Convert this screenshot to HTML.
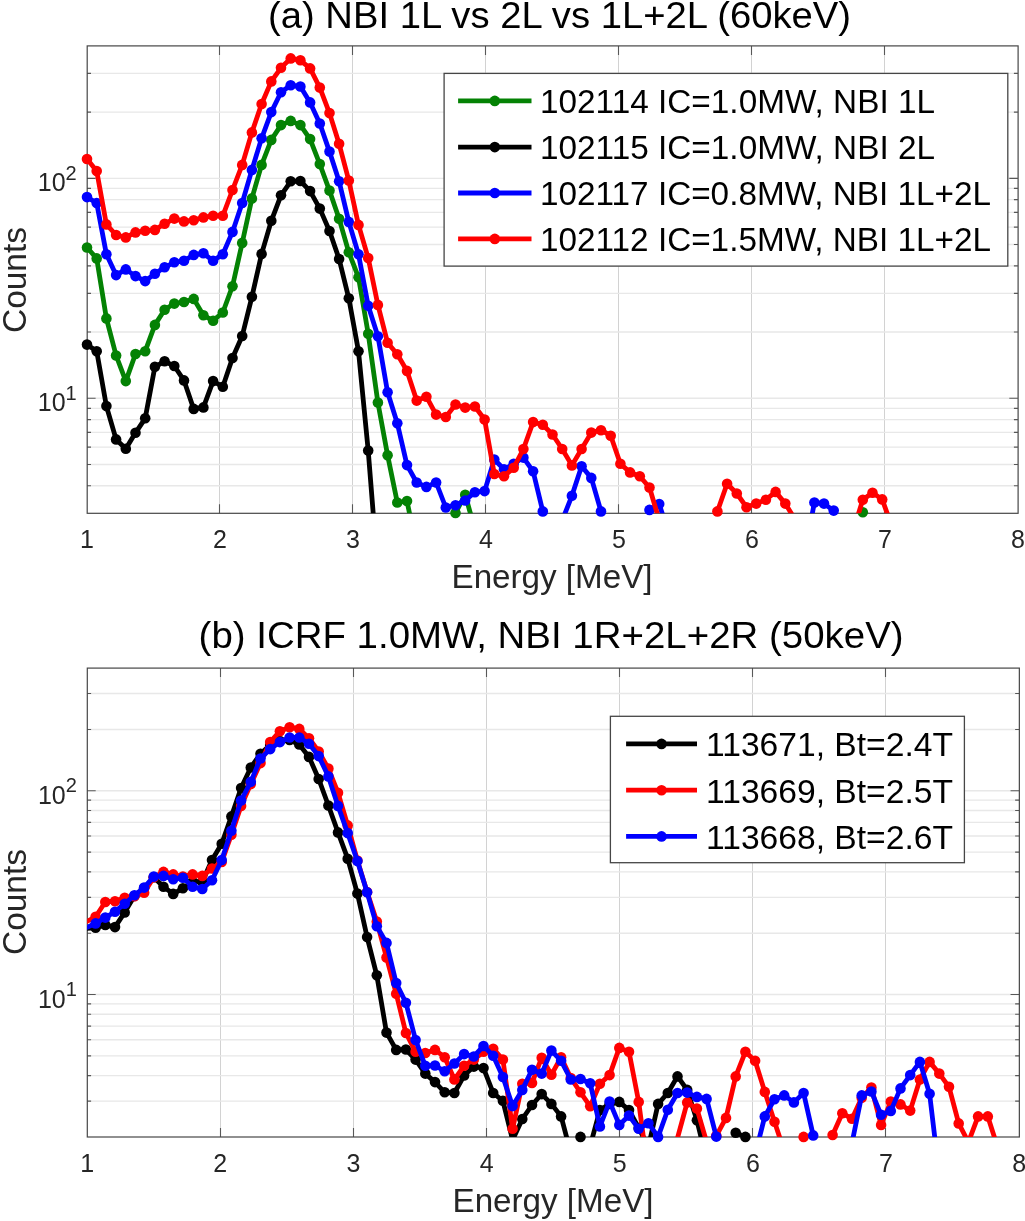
<!DOCTYPE html>
<html lang="en"><head><meta charset="utf-8"><title>NBI neutron spectra</title>
<style>html,body{margin:0;padding:0;background:#fff}svg{display:block}text{font-family:"Liberation Sans",Arial,Helvetica,sans-serif;fill:#262626}text.k{fill:#000}</style></head><body>
<svg width="1025" height="1221" viewBox="0 0 1025 1221">
<rect width="1025" height="1221" fill="#fff"/>
<rect x="87" y="45.9" width="930.9" height="467.4" fill="#fff"/>
<path d="M219.5 45.9V513.3M352.5 45.9V513.3M485.5 45.9V513.3M618.5 45.9V513.3M751.5 45.9V513.3M884.5 45.9V513.3" stroke="#d2d2d2" stroke-width="1" fill="none"/>
<path d="M87 485.82H1017.9M87 464.50H1017.9M87 447.09H1017.9M87 432.36H1017.9M87 419.60H1017.9M87 408.35H1017.9M87 398.29H1017.9M87 332.07H1017.9M87 293.34H1017.9M87 265.86H1017.9M87 244.54H1017.9M87 227.13H1017.9M87 212.40H1017.9M87 199.64H1017.9M87 188.39H1017.9M87 178.33H1017.9M87 112.11H1017.9M87 73.38H1017.9" stroke="#e8e8e8" stroke-width="1.4" fill="none"/>
<path d="M219.50 513.3v-9M219.50 45.9v9M352.50 513.3v-9M352.50 45.9v9M485.50 513.3v-9M485.50 45.9v9M618.50 513.3v-9M618.50 45.9v9M751.50 513.3v-9M751.50 45.9v9M884.50 513.3v-9M884.50 45.9v9M87 485.82h4.0M1017.9 485.82h-4.0M87 464.50h4.0M1017.9 464.50h-4.0M87 447.09h4.0M1017.9 447.09h-4.0M87 432.36h4.0M1017.9 432.36h-4.0M87 419.60h4.0M1017.9 419.60h-4.0M87 408.35h4.0M1017.9 408.35h-4.0M87 398.29h8.6M1017.9 398.29h-8.6M87 332.07h4.0M1017.9 332.07h-4.0M87 293.34h4.0M1017.9 293.34h-4.0M87 265.86h4.0M1017.9 265.86h-4.0M87 244.54h4.0M1017.9 244.54h-4.0M87 227.13h4.0M1017.9 227.13h-4.0M87 212.40h4.0M1017.9 212.40h-4.0M87 199.64h4.0M1017.9 199.64h-4.0M87 188.39h4.0M1017.9 188.39h-4.0M87 178.33h8.6M1017.9 178.33h-8.6M87 112.11h4.0M1017.9 112.11h-4.0M87 73.38h4.0M1017.9 73.38h-4.0" stroke="#585858" stroke-width="1.1" fill="none"/>
<rect x="87.2" y="45.9" width="930.90" height="467.40" fill="none" stroke="#464646" stroke-width="1.2"/>
<clipPath id="c1"><rect x="87" y="45.9" width="930.9" height="467.4"/></clipPath>
<polyline clip-path="url(#c1)" points="87.0,247.5 96.7,258.4 106.4,318.4 116.1,355.5 125.8,381.1 135.5,354.0 145.2,351.2 154.9,324.9 164.6,309.8 174.3,303.6 184.0,302.0 193.7,298.9 203.4,315.3 213.1,320.7 222.8,312.5 232.5,286.2 242.2,242.9 251.9,198.4 261.6,164.9 271.3,139.9 281.0,125.1 290.7,120.9 300.4,125.1 310.1,139.1 319.8,164.1 329.5,190.6 339.1,218.7 348.8,252.3 358.5,277.3 368.2,333.7 377.9,402.6 387.6,455.2 397.3,502.5 407.0,501.0 416.7,548.6 426.4,560.0 436.1,560.0 445.8,560.0 455.5,513.0 465.2,494.7 474.9,529.5 484.6,560.0 494.3,560.0 504.0,560.0 513.7,560.0 523.4,560.0 533.1,560.0 542.8,560.0 552.5,560.0 562.2,560.0 571.9,560.0 581.6,560.0 591.3,560.0 601.0,560.0 610.7,560.0 620.4,560.0 630.1,560.0 639.8,560.0 649.5,560.0 659.2,560.0 668.9,560.0 678.6,560.0 688.3,560.0 698.0,560.0 707.7,560.0 717.4,560.0 727.1,560.0 736.8,560.0 746.5,560.0 756.2,560.0 765.9,560.0 775.6,560.0 785.3,560.0 795.0,560.0 804.7,560.0 814.4,560.0 824.0,560.0 833.7,560.0 843.4,560.0 853.1,560.0 862.8,512.2 872.5,560.0 882.2,560.0 891.9,560.0 901.6,560.0 911.3,560.0 921.0,560.0 930.7,560.0 940.4,560.0 950.1,560.0 959.8,560.0 969.5,560.0 979.2,560.0 988.9,560.0 998.6,560.0 1008.3,560.0 1018.0,560.0" fill="none" stroke="#048204" stroke-width="4.8" stroke-linejoin="round"/>
<g fill="#048204"><circle cx="87.0" cy="247.5" r="5.3"/><circle cx="96.7" cy="258.4" r="5.3"/><circle cx="106.4" cy="318.4" r="5.3"/><circle cx="116.1" cy="355.5" r="5.3"/><circle cx="125.8" cy="381.1" r="5.3"/><circle cx="135.5" cy="354.0" r="5.3"/><circle cx="145.2" cy="351.2" r="5.3"/><circle cx="154.9" cy="324.9" r="5.3"/><circle cx="164.6" cy="309.8" r="5.3"/><circle cx="174.3" cy="303.6" r="5.3"/><circle cx="184.0" cy="302.0" r="5.3"/><circle cx="193.7" cy="298.9" r="5.3"/><circle cx="203.4" cy="315.3" r="5.3"/><circle cx="213.1" cy="320.7" r="5.3"/><circle cx="222.8" cy="312.5" r="5.3"/><circle cx="232.5" cy="286.2" r="5.3"/><circle cx="242.2" cy="242.9" r="5.3"/><circle cx="251.9" cy="198.4" r="5.3"/><circle cx="261.6" cy="164.9" r="5.3"/><circle cx="271.3" cy="139.9" r="5.3"/><circle cx="281.0" cy="125.1" r="5.3"/><circle cx="290.7" cy="120.9" r="5.3"/><circle cx="300.4" cy="125.1" r="5.3"/><circle cx="310.1" cy="139.1" r="5.3"/><circle cx="319.8" cy="164.1" r="5.3"/><circle cx="329.5" cy="190.6" r="5.3"/><circle cx="339.1" cy="218.7" r="5.3"/><circle cx="348.8" cy="252.3" r="5.3"/><circle cx="358.5" cy="277.3" r="5.3"/><circle cx="368.2" cy="333.7" r="5.3"/><circle cx="377.9" cy="402.6" r="5.3"/><circle cx="387.6" cy="455.2" r="5.3"/><circle cx="397.3" cy="502.5" r="5.3"/><circle cx="407.0" cy="501.0" r="5.3"/><circle cx="455.5" cy="513.0" r="5.3"/><circle cx="465.2" cy="494.7" r="5.3"/><circle cx="862.8" cy="512.2" r="5.3"/></g>
<polyline clip-path="url(#c1)" points="87.0,344.6 96.7,351.2 106.4,406.1 116.1,439.4 125.8,448.7 135.5,432.8 145.2,418.3 154.9,366.8 164.6,361.3 174.3,366.0 184.0,380.4 193.7,408.9 203.4,407.4 213.1,381.1 222.8,386.8 232.5,358.0 242.2,336.0 251.9,296.8 261.6,253.9 271.3,220.8 281.0,195.3 290.7,181.3 300.4,181.0 310.1,191.1 319.8,208.6 329.5,231.0 339.1,259.0 348.8,298.3 358.5,351.2 368.2,450.5 377.9,572.0 387.6,600.0 397.3,600.0 407.0,600.0 416.7,600.0 426.4,600.0 436.1,600.0 445.8,600.0 455.5,600.0 465.2,600.0 474.9,600.0 484.6,600.0 494.3,600.0 504.0,600.0 513.7,600.0 523.4,600.0 533.1,600.0 542.8,600.0 552.5,600.0 562.2,600.0 571.9,600.0 581.6,600.0 591.3,600.0 601.0,600.0 610.7,600.0 620.4,600.0 630.1,600.0 639.8,600.0 649.5,600.0 659.2,600.0 668.9,600.0 678.6,600.0 688.3,600.0 698.0,600.0 707.7,600.0 717.4,600.0 727.1,600.0 736.8,600.0 746.5,600.0 756.2,600.0 765.9,600.0 775.6,600.0 785.3,600.0 795.0,600.0 804.7,600.0 814.4,600.0 824.0,600.0 833.7,600.0 843.4,600.0 853.1,600.0 862.8,600.0 872.5,600.0 882.2,600.0 891.9,600.0 901.6,600.0 911.3,600.0 921.0,600.0 930.7,600.0 940.4,600.0 950.1,600.0 959.8,600.0 969.5,600.0 979.2,600.0 988.9,600.0 998.6,600.0 1008.3,600.0 1018.0,600.0" fill="none" stroke="#000000" stroke-width="4.8" stroke-linejoin="round"/>
<g fill="#000000"><circle cx="87.0" cy="344.6" r="5.3"/><circle cx="96.7" cy="351.2" r="5.3"/><circle cx="106.4" cy="406.1" r="5.3"/><circle cx="116.1" cy="439.4" r="5.3"/><circle cx="125.8" cy="448.7" r="5.3"/><circle cx="135.5" cy="432.8" r="5.3"/><circle cx="145.2" cy="418.3" r="5.3"/><circle cx="154.9" cy="366.8" r="5.3"/><circle cx="164.6" cy="361.3" r="5.3"/><circle cx="174.3" cy="366.0" r="5.3"/><circle cx="184.0" cy="380.4" r="5.3"/><circle cx="193.7" cy="408.9" r="5.3"/><circle cx="203.4" cy="407.4" r="5.3"/><circle cx="213.1" cy="381.1" r="5.3"/><circle cx="222.8" cy="386.8" r="5.3"/><circle cx="232.5" cy="358.0" r="5.3"/><circle cx="242.2" cy="336.0" r="5.3"/><circle cx="251.9" cy="296.8" r="5.3"/><circle cx="261.6" cy="253.9" r="5.3"/><circle cx="271.3" cy="220.8" r="5.3"/><circle cx="281.0" cy="195.3" r="5.3"/><circle cx="290.7" cy="181.3" r="5.3"/><circle cx="300.4" cy="181.0" r="5.3"/><circle cx="310.1" cy="191.1" r="5.3"/><circle cx="319.8" cy="208.6" r="5.3"/><circle cx="329.5" cy="231.0" r="5.3"/><circle cx="339.1" cy="259.0" r="5.3"/><circle cx="348.8" cy="298.3" r="5.3"/><circle cx="358.5" cy="351.2" r="5.3"/><circle cx="368.2" cy="450.5" r="5.3"/></g>
<polyline clip-path="url(#c1)" points="87.0,197.1 96.7,203.0 106.4,254.2 116.1,275.1 125.8,269.4 135.5,276.1 145.2,281.1 154.9,273.7 164.6,267.3 174.3,262.3 184.0,260.8 193.7,254.9 203.4,253.3 213.1,260.8 222.8,254.2 232.5,231.9 242.2,203.0 251.9,169.9 261.6,138.3 271.3,112.1 281.0,92.3 290.7,85.3 300.4,86.5 310.1,102.4 319.8,123.5 329.5,151.6 339.1,181.3 348.8,221.9 358.5,254.3 368.2,305.8 377.9,336.2 387.6,392.3 397.3,423.2 407.0,465.1 416.7,482.5 426.4,486.9 436.1,482.5 445.8,507.5 455.5,505.2 465.2,500.5 474.9,492.2 484.6,491.1 494.3,459.5 504.0,469.3 513.7,463.8 523.4,457.6 533.1,471.3 542.8,511.4 552.5,530.0 562.2,520.5 571.9,495.8 581.6,466.2 591.3,477.9 601.0,511.4 610.7,545.0 620.4,545.0 630.1,545.0 639.8,535.0 649.5,509.9 659.2,504.1 668.9,534.0 678.6,560.0 688.3,560.0 698.0,560.0 707.7,560.0 717.4,560.0 727.1,560.0 736.8,560.0 746.5,560.0 756.2,560.0 765.9,560.0 775.6,560.0 785.3,560.0 795.0,560.0 804.7,553.9 814.4,502.5 824.0,503.6 833.7,510.6 843.4,545.0 853.1,560.0 862.8,560.0 872.5,560.0 882.2,560.0 891.9,560.0 901.6,560.0 911.3,560.0 921.0,560.0 930.7,560.0 940.4,560.0 950.1,560.0 959.8,560.0 969.5,560.0 979.2,560.0 988.9,560.0 998.6,560.0 1008.3,560.0 1018.0,560.0" fill="none" stroke="#0000ff" stroke-width="4.8" stroke-linejoin="round"/>
<g fill="#0000ff"><circle cx="87.0" cy="197.1" r="5.3"/><circle cx="96.7" cy="203.0" r="5.3"/><circle cx="106.4" cy="254.2" r="5.3"/><circle cx="116.1" cy="275.1" r="5.3"/><circle cx="125.8" cy="269.4" r="5.3"/><circle cx="135.5" cy="276.1" r="5.3"/><circle cx="145.2" cy="281.1" r="5.3"/><circle cx="154.9" cy="273.7" r="5.3"/><circle cx="164.6" cy="267.3" r="5.3"/><circle cx="174.3" cy="262.3" r="5.3"/><circle cx="184.0" cy="260.8" r="5.3"/><circle cx="193.7" cy="254.9" r="5.3"/><circle cx="203.4" cy="253.3" r="5.3"/><circle cx="213.1" cy="260.8" r="5.3"/><circle cx="222.8" cy="254.2" r="5.3"/><circle cx="232.5" cy="231.9" r="5.3"/><circle cx="242.2" cy="203.0" r="5.3"/><circle cx="251.9" cy="169.9" r="5.3"/><circle cx="261.6" cy="138.3" r="5.3"/><circle cx="271.3" cy="112.1" r="5.3"/><circle cx="281.0" cy="92.3" r="5.3"/><circle cx="290.7" cy="85.3" r="5.3"/><circle cx="300.4" cy="86.5" r="5.3"/><circle cx="310.1" cy="102.4" r="5.3"/><circle cx="319.8" cy="123.5" r="5.3"/><circle cx="329.5" cy="151.6" r="5.3"/><circle cx="339.1" cy="181.3" r="5.3"/><circle cx="348.8" cy="221.9" r="5.3"/><circle cx="358.5" cy="254.3" r="5.3"/><circle cx="368.2" cy="305.8" r="5.3"/><circle cx="377.9" cy="336.2" r="5.3"/><circle cx="387.6" cy="392.3" r="5.3"/><circle cx="397.3" cy="423.2" r="5.3"/><circle cx="407.0" cy="465.1" r="5.3"/><circle cx="416.7" cy="482.5" r="5.3"/><circle cx="426.4" cy="486.9" r="5.3"/><circle cx="436.1" cy="482.5" r="5.3"/><circle cx="445.8" cy="507.5" r="5.3"/><circle cx="455.5" cy="505.2" r="5.3"/><circle cx="465.2" cy="500.5" r="5.3"/><circle cx="474.9" cy="492.2" r="5.3"/><circle cx="484.6" cy="491.1" r="5.3"/><circle cx="494.3" cy="459.5" r="5.3"/><circle cx="504.0" cy="469.3" r="5.3"/><circle cx="513.7" cy="463.8" r="5.3"/><circle cx="523.4" cy="457.6" r="5.3"/><circle cx="533.1" cy="471.3" r="5.3"/><circle cx="542.8" cy="511.4" r="5.3"/><circle cx="571.9" cy="495.8" r="5.3"/><circle cx="581.6" cy="466.2" r="5.3"/><circle cx="591.3" cy="477.9" r="5.3"/><circle cx="601.0" cy="511.4" r="5.3"/><circle cx="649.5" cy="509.9" r="5.3"/><circle cx="659.2" cy="504.1" r="5.3"/><circle cx="814.4" cy="502.5" r="5.3"/><circle cx="824.0" cy="503.6" r="5.3"/><circle cx="833.7" cy="510.6" r="5.3"/></g>
<polyline clip-path="url(#c1)" points="87.0,159.0 96.7,171.0 106.4,224.4 116.1,235.0 125.8,237.4 135.5,232.4 145.2,230.8 154.9,229.9 164.6,223.8 174.3,218.6 184.0,221.4 193.7,220.2 203.4,217.4 213.1,215.8 222.8,215.8 232.5,190.0 242.2,164.9 251.9,132.4 261.6,104.0 271.3,81.4 281.0,67.8 290.7,58.4 300.4,60.3 310.1,68.4 319.8,87.6 329.5,113.1 339.1,143.8 348.8,180.5 358.5,224.9 368.2,258.1 377.9,304.9 387.6,342.8 397.3,354.2 407.0,370.9 416.7,400.6 426.4,396.7 436.1,414.6 445.8,417.0 455.5,404.5 465.2,407.6 474.9,406.5 484.6,419.5 494.3,474.0 504.0,476.3 513.7,467.7 523.4,449.0 533.1,422.1 542.8,424.8 552.5,434.5 562.2,449.0 571.9,465.4 581.6,449.0 591.3,432.6 601.0,430.2 610.7,435.7 620.4,463.8 630.1,472.4 639.8,476.3 649.5,487.5 659.2,520.2 668.9,545.0 678.6,545.0 688.3,545.0 698.0,545.0 707.7,545.0 717.4,511.4 727.1,483.8 736.8,493.5 746.5,507.2 756.2,503.6 765.9,499.7 775.6,491.9 785.3,503.6 795.0,519.4 804.7,545.0 814.4,545.0 824.0,545.0 833.7,545.0 843.4,545.0 853.1,531.0 862.8,499.7 872.5,492.7 882.2,499.4 891.9,526.4 901.6,560.0 911.3,560.0 921.0,560.0 930.7,560.0 940.4,560.0 950.1,560.0 959.8,560.0 969.5,560.0 979.2,560.0 988.9,560.0 998.6,560.0 1008.3,560.0 1018.0,560.0" fill="none" stroke="#ff0000" stroke-width="4.8" stroke-linejoin="round"/>
<g fill="#ff0000"><circle cx="87.0" cy="159.0" r="5.3"/><circle cx="96.7" cy="171.0" r="5.3"/><circle cx="106.4" cy="224.4" r="5.3"/><circle cx="116.1" cy="235.0" r="5.3"/><circle cx="125.8" cy="237.4" r="5.3"/><circle cx="135.5" cy="232.4" r="5.3"/><circle cx="145.2" cy="230.8" r="5.3"/><circle cx="154.9" cy="229.9" r="5.3"/><circle cx="164.6" cy="223.8" r="5.3"/><circle cx="174.3" cy="218.6" r="5.3"/><circle cx="184.0" cy="221.4" r="5.3"/><circle cx="193.7" cy="220.2" r="5.3"/><circle cx="203.4" cy="217.4" r="5.3"/><circle cx="213.1" cy="215.8" r="5.3"/><circle cx="222.8" cy="215.8" r="5.3"/><circle cx="232.5" cy="190.0" r="5.3"/><circle cx="242.2" cy="164.9" r="5.3"/><circle cx="251.9" cy="132.4" r="5.3"/><circle cx="261.6" cy="104.0" r="5.3"/><circle cx="271.3" cy="81.4" r="5.3"/><circle cx="281.0" cy="67.8" r="5.3"/><circle cx="290.7" cy="58.4" r="5.3"/><circle cx="300.4" cy="60.3" r="5.3"/><circle cx="310.1" cy="68.4" r="5.3"/><circle cx="319.8" cy="87.6" r="5.3"/><circle cx="329.5" cy="113.1" r="5.3"/><circle cx="339.1" cy="143.8" r="5.3"/><circle cx="348.8" cy="180.5" r="5.3"/><circle cx="358.5" cy="224.9" r="5.3"/><circle cx="368.2" cy="258.1" r="5.3"/><circle cx="377.9" cy="304.9" r="5.3"/><circle cx="387.6" cy="342.8" r="5.3"/><circle cx="397.3" cy="354.2" r="5.3"/><circle cx="407.0" cy="370.9" r="5.3"/><circle cx="416.7" cy="400.6" r="5.3"/><circle cx="426.4" cy="396.7" r="5.3"/><circle cx="436.1" cy="414.6" r="5.3"/><circle cx="445.8" cy="417.0" r="5.3"/><circle cx="455.5" cy="404.5" r="5.3"/><circle cx="465.2" cy="407.6" r="5.3"/><circle cx="474.9" cy="406.5" r="5.3"/><circle cx="484.6" cy="419.5" r="5.3"/><circle cx="494.3" cy="474.0" r="5.3"/><circle cx="504.0" cy="476.3" r="5.3"/><circle cx="513.7" cy="467.7" r="5.3"/><circle cx="523.4" cy="449.0" r="5.3"/><circle cx="533.1" cy="422.1" r="5.3"/><circle cx="542.8" cy="424.8" r="5.3"/><circle cx="552.5" cy="434.5" r="5.3"/><circle cx="562.2" cy="449.0" r="5.3"/><circle cx="571.9" cy="465.4" r="5.3"/><circle cx="581.6" cy="449.0" r="5.3"/><circle cx="591.3" cy="432.6" r="5.3"/><circle cx="601.0" cy="430.2" r="5.3"/><circle cx="610.7" cy="435.7" r="5.3"/><circle cx="620.4" cy="463.8" r="5.3"/><circle cx="630.1" cy="472.4" r="5.3"/><circle cx="639.8" cy="476.3" r="5.3"/><circle cx="649.5" cy="487.5" r="5.3"/><circle cx="717.4" cy="511.4" r="5.3"/><circle cx="727.1" cy="483.8" r="5.3"/><circle cx="736.8" cy="493.5" r="5.3"/><circle cx="746.5" cy="507.2" r="5.3"/><circle cx="756.2" cy="503.6" r="5.3"/><circle cx="765.9" cy="499.7" r="5.3"/><circle cx="775.6" cy="491.9" r="5.3"/><circle cx="785.3" cy="503.6" r="5.3"/><circle cx="862.8" cy="499.7" r="5.3"/><circle cx="872.5" cy="492.7" r="5.3"/><circle cx="882.2" cy="499.4" r="5.3"/></g>
<text x="87.0" y="548.1" font-size="25" text-anchor="middle">1</text>
<text x="220.0" y="548.1" font-size="25" text-anchor="middle">2</text>
<text x="353.0" y="548.1" font-size="25" text-anchor="middle">3</text>
<text x="486.0" y="548.1" font-size="25" text-anchor="middle">4</text>
<text x="618.9" y="548.1" font-size="25" text-anchor="middle">5</text>
<text x="751.9" y="548.1" font-size="25" text-anchor="middle">6</text>
<text x="884.9" y="548.1" font-size="25" text-anchor="middle">7</text>
<text x="1017.9" y="548.1" font-size="25" text-anchor="middle">8</text>
<text x="65.6" y="411.2" font-size="25" text-anchor="end">10</text>
<text x="65.6" y="399.6" font-size="20" text-anchor="start">1</text>
<text x="65.6" y="191.2" font-size="25" text-anchor="end">10</text>
<text x="65.6" y="179.6" font-size="20" text-anchor="start">2</text>
<rect x="87.1" y="668.1" width="932.05" height="468.9" fill="#fff"/>
<path d="M220.5 668.1V1137M353.5 668.1V1137M486.5 668.1V1137M619.5 668.1V1137M752.5 668.1V1137M885.5 668.1V1137" stroke="#d2d2d2" stroke-width="1" fill="none"/>
<path d="M87.1 1101.12H1019.15M87.1 1075.66H1019.15M87.1 1055.91H1019.15M87.1 1039.77H1019.15M87.1 1026.13H1019.15M87.1 1014.31H1019.15M87.1 1003.89H1019.15M87.1 994.57H1019.15M87.1 933.22H1019.15M87.1 897.34H1019.15M87.1 871.88H1019.15M87.1 852.13H1019.15M87.1 835.99H1019.15M87.1 822.35H1019.15M87.1 810.53H1019.15M87.1 800.11H1019.15M87.1 790.79H1019.15M87.1 729.44H1019.15M87.1 693.56H1019.15" stroke="#e8e8e8" stroke-width="1.4" fill="none"/>
<path d="M220.50 1137v-9M220.50 668.1v9M353.50 1137v-9M353.50 668.1v9M486.50 1137v-9M486.50 668.1v9M619.50 1137v-9M619.50 668.1v9M752.50 1137v-9M752.50 668.1v9M885.50 1137v-9M885.50 668.1v9M87.1 1101.12h4.0M1019.15 1101.12h-4.0M87.1 1075.66h4.0M1019.15 1075.66h-4.0M87.1 1055.91h4.0M1019.15 1055.91h-4.0M87.1 1039.77h4.0M1019.15 1039.77h-4.0M87.1 1026.13h4.0M1019.15 1026.13h-4.0M87.1 1014.31h4.0M1019.15 1014.31h-4.0M87.1 1003.89h4.0M1019.15 1003.89h-4.0M87.1 994.57h8.6M1019.15 994.57h-8.6M87.1 933.22h4.0M1019.15 933.22h-4.0M87.1 897.34h4.0M1019.15 897.34h-4.0M87.1 871.88h4.0M1019.15 871.88h-4.0M87.1 852.13h4.0M1019.15 852.13h-4.0M87.1 835.99h4.0M1019.15 835.99h-4.0M87.1 822.35h4.0M1019.15 822.35h-4.0M87.1 810.53h4.0M1019.15 810.53h-4.0M87.1 800.11h4.0M1019.15 800.11h-4.0M87.1 790.79h8.6M1019.15 790.79h-8.6M87.1 729.44h4.0M1019.15 729.44h-4.0M87.1 693.56h4.0M1019.15 693.56h-4.0" stroke="#585858" stroke-width="1.1" fill="none"/>
<rect x="87.3" y="668.1" width="932.05" height="468.90" fill="none" stroke="#464646" stroke-width="1.2"/>
<clipPath id="c2"><rect x="87.1" y="668.1" width="932.05" height="468.9"/></clipPath>
<polyline clip-path="url(#c2)" points="85.9,928.5 95.6,927.8 105.3,924.9 115.0,927.1 124.7,912.4 134.4,896.0 144.1,888.3 153.8,877.3 163.5,886.8 173.2,893.9 182.9,888.3 192.6,881.7 202.3,881.7 212.0,860.0 221.7,843.8 231.4,816.4 241.1,788.0 250.8,767.5 260.5,753.8 270.2,745.0 279.9,741.0 289.6,740.0 299.3,744.5 309.0,756.9 318.7,779.0 328.4,805.5 338.0,832.4 347.7,858.7 357.4,893.6 367.1,937.1 376.8,975.3 386.5,1032.6 396.2,1049.9 405.9,1049.5 415.6,1059.6 425.3,1073.6 435.0,1082.1 444.7,1092.3 454.4,1093.0 464.1,1075.5 473.8,1066.6 483.5,1068.1 493.2,1093.0 502.9,1100.8 512.6,1140.0 522.3,1119.0 532.0,1105.0 541.7,1094.1 551.4,1103.9 561.1,1116.4 570.8,1153.0 580.5,1136.9 590.2,1145.8 599.9,1110.1 609.6,1103.9 619.3,1101.9 629.0,1110.1 638.7,1128.0 648.4,1146.9 658.1,1103.9 667.8,1093.0 677.5,1076.4 687.2,1089.9 696.9,1120.3 706.6,1160.0 716.3,1170.0 726.0,1160.0 735.7,1132.7 745.4,1136.9 755.1,1180.0 764.8,1180.0 774.5,1180.0 784.2,1180.0 793.9,1180.0 803.6,1180.0 813.2,1180.0 822.9,1180.0 832.6,1180.0 842.3,1180.0 852.0,1180.0 861.7,1180.0 871.4,1180.0 881.1,1180.0 890.8,1180.0 900.5,1180.0 910.2,1180.0 919.9,1180.0 929.6,1180.0 939.3,1180.0 949.0,1180.0 958.7,1180.0 968.4,1180.0 978.1,1180.0 987.8,1180.0 997.5,1180.0 1007.2,1180.0 1016.9,1180.0" fill="none" stroke="#000000" stroke-width="4.8" stroke-linejoin="round"/>
<g fill="#000000"><circle cx="95.6" cy="927.8" r="5.3"/><circle cx="105.3" cy="924.9" r="5.3"/><circle cx="115.0" cy="927.1" r="5.3"/><circle cx="124.7" cy="912.4" r="5.3"/><circle cx="134.4" cy="896.0" r="5.3"/><circle cx="144.1" cy="888.3" r="5.3"/><circle cx="153.8" cy="877.3" r="5.3"/><circle cx="163.5" cy="886.8" r="5.3"/><circle cx="173.2" cy="893.9" r="5.3"/><circle cx="182.9" cy="888.3" r="5.3"/><circle cx="192.6" cy="881.7" r="5.3"/><circle cx="202.3" cy="881.7" r="5.3"/><circle cx="212.0" cy="860.0" r="5.3"/><circle cx="221.7" cy="843.8" r="5.3"/><circle cx="231.4" cy="816.4" r="5.3"/><circle cx="241.1" cy="788.0" r="5.3"/><circle cx="250.8" cy="767.5" r="5.3"/><circle cx="260.5" cy="753.8" r="5.3"/><circle cx="270.2" cy="745.0" r="5.3"/><circle cx="279.9" cy="741.0" r="5.3"/><circle cx="289.6" cy="740.0" r="5.3"/><circle cx="299.3" cy="744.5" r="5.3"/><circle cx="309.0" cy="756.9" r="5.3"/><circle cx="318.7" cy="779.0" r="5.3"/><circle cx="328.4" cy="805.5" r="5.3"/><circle cx="338.0" cy="832.4" r="5.3"/><circle cx="347.7" cy="858.7" r="5.3"/><circle cx="357.4" cy="893.6" r="5.3"/><circle cx="367.1" cy="937.1" r="5.3"/><circle cx="376.8" cy="975.3" r="5.3"/><circle cx="386.5" cy="1032.6" r="5.3"/><circle cx="396.2" cy="1049.9" r="5.3"/><circle cx="405.9" cy="1049.5" r="5.3"/><circle cx="415.6" cy="1059.6" r="5.3"/><circle cx="425.3" cy="1073.6" r="5.3"/><circle cx="435.0" cy="1082.1" r="5.3"/><circle cx="444.7" cy="1092.3" r="5.3"/><circle cx="454.4" cy="1093.0" r="5.3"/><circle cx="464.1" cy="1075.5" r="5.3"/><circle cx="473.8" cy="1066.6" r="5.3"/><circle cx="483.5" cy="1068.1" r="5.3"/><circle cx="493.2" cy="1093.0" r="5.3"/><circle cx="502.9" cy="1100.8" r="5.3"/><circle cx="522.3" cy="1119.0" r="5.3"/><circle cx="532.0" cy="1105.0" r="5.3"/><circle cx="541.7" cy="1094.1" r="5.3"/><circle cx="551.4" cy="1103.9" r="5.3"/><circle cx="561.1" cy="1116.4" r="5.3"/><circle cx="580.5" cy="1136.9" r="5.3"/><circle cx="599.9" cy="1110.1" r="5.3"/><circle cx="609.6" cy="1103.9" r="5.3"/><circle cx="619.3" cy="1101.9" r="5.3"/><circle cx="629.0" cy="1110.1" r="5.3"/><circle cx="638.7" cy="1128.0" r="5.3"/><circle cx="658.1" cy="1103.9" r="5.3"/><circle cx="667.8" cy="1093.0" r="5.3"/><circle cx="677.5" cy="1076.4" r="5.3"/><circle cx="687.2" cy="1089.9" r="5.3"/><circle cx="696.9" cy="1120.3" r="5.3"/><circle cx="735.7" cy="1132.7" r="5.3"/><circle cx="745.4" cy="1136.9" r="5.3"/></g>
<polyline clip-path="url(#c2)" points="85.9,922.0 95.6,916.8 105.3,902.0 115.0,901.2 124.7,897.8 134.4,896.3 144.1,892.7 153.8,877.3 163.5,871.9 173.2,874.4 182.9,876.6 192.6,874.4 202.3,875.9 212.0,868.5 221.7,862.0 231.4,834.7 241.1,805.9 250.8,784.1 260.5,763.1 270.2,742.1 279.9,731.2 289.6,727.3 299.3,728.9 309.0,738.2 318.7,751.5 328.4,768.6 338.0,792.7 347.7,825.4 357.4,860.5 367.1,892.0 376.8,921.6 386.5,957.4 396.2,993.7 405.9,1033.0 415.6,1051.8 425.3,1053.0 435.0,1049.9 444.7,1057.2 454.4,1079.5 464.1,1065.8 473.8,1059.6 483.5,1051.8 493.2,1048.7 502.9,1059.5 512.6,1128.8 522.3,1083.7 532.0,1082.9 541.7,1057.7 551.4,1074.8 561.1,1057.2 570.8,1078.0 580.5,1092.3 590.2,1106.3 599.9,1083.7 609.6,1075.1 619.3,1047.9 629.0,1051.8 638.7,1101.9 648.4,1174.8 658.1,1180.0 667.8,1180.0 677.5,1138.0 687.2,1102.4 696.9,1108.6 706.6,1141.9 716.3,1135.8 726.0,1117.9 735.7,1076.4 745.4,1051.8 755.1,1060.8 764.8,1091.9 774.5,1121.8 784.2,1151.0 793.9,1160.0 803.6,1136.9 813.2,1160.0 822.9,1160.0 832.6,1135.0 842.3,1113.3 852.0,1118.7 861.7,1097.7 871.4,1087.6 881.1,1124.9 890.8,1101.6 900.5,1104.4 910.2,1110.6 919.9,1079.5 929.6,1061.9 939.3,1073.6 949.0,1086.8 958.7,1123.4 968.4,1142.2 978.1,1116.4 987.8,1116.4 997.5,1146.9 1007.2,1180.0 1016.9,1180.0" fill="none" stroke="#ff0000" stroke-width="4.8" stroke-linejoin="round"/>
<g fill="#ff0000"><circle cx="95.6" cy="916.8" r="5.3"/><circle cx="105.3" cy="902.0" r="5.3"/><circle cx="115.0" cy="901.2" r="5.3"/><circle cx="124.7" cy="897.8" r="5.3"/><circle cx="134.4" cy="896.3" r="5.3"/><circle cx="144.1" cy="892.7" r="5.3"/><circle cx="153.8" cy="877.3" r="5.3"/><circle cx="163.5" cy="871.9" r="5.3"/><circle cx="173.2" cy="874.4" r="5.3"/><circle cx="182.9" cy="876.6" r="5.3"/><circle cx="192.6" cy="874.4" r="5.3"/><circle cx="202.3" cy="875.9" r="5.3"/><circle cx="212.0" cy="868.5" r="5.3"/><circle cx="221.7" cy="862.0" r="5.3"/><circle cx="231.4" cy="834.7" r="5.3"/><circle cx="241.1" cy="805.9" r="5.3"/><circle cx="250.8" cy="784.1" r="5.3"/><circle cx="260.5" cy="763.1" r="5.3"/><circle cx="270.2" cy="742.1" r="5.3"/><circle cx="279.9" cy="731.2" r="5.3"/><circle cx="289.6" cy="727.3" r="5.3"/><circle cx="299.3" cy="728.9" r="5.3"/><circle cx="309.0" cy="738.2" r="5.3"/><circle cx="318.7" cy="751.5" r="5.3"/><circle cx="328.4" cy="768.6" r="5.3"/><circle cx="338.0" cy="792.7" r="5.3"/><circle cx="347.7" cy="825.4" r="5.3"/><circle cx="357.4" cy="860.5" r="5.3"/><circle cx="367.1" cy="892.0" r="5.3"/><circle cx="376.8" cy="921.6" r="5.3"/><circle cx="386.5" cy="957.4" r="5.3"/><circle cx="396.2" cy="993.7" r="5.3"/><circle cx="405.9" cy="1033.0" r="5.3"/><circle cx="415.6" cy="1051.8" r="5.3"/><circle cx="425.3" cy="1053.0" r="5.3"/><circle cx="435.0" cy="1049.9" r="5.3"/><circle cx="444.7" cy="1057.2" r="5.3"/><circle cx="454.4" cy="1079.5" r="5.3"/><circle cx="464.1" cy="1065.8" r="5.3"/><circle cx="473.8" cy="1059.6" r="5.3"/><circle cx="483.5" cy="1051.8" r="5.3"/><circle cx="493.2" cy="1048.7" r="5.3"/><circle cx="502.9" cy="1059.5" r="5.3"/><circle cx="512.6" cy="1128.8" r="5.3"/><circle cx="522.3" cy="1083.7" r="5.3"/><circle cx="532.0" cy="1082.9" r="5.3"/><circle cx="541.7" cy="1057.7" r="5.3"/><circle cx="551.4" cy="1074.8" r="5.3"/><circle cx="561.1" cy="1057.2" r="5.3"/><circle cx="570.8" cy="1078.0" r="5.3"/><circle cx="580.5" cy="1092.3" r="5.3"/><circle cx="590.2" cy="1106.3" r="5.3"/><circle cx="599.9" cy="1083.7" r="5.3"/><circle cx="609.6" cy="1075.1" r="5.3"/><circle cx="619.3" cy="1047.9" r="5.3"/><circle cx="629.0" cy="1051.8" r="5.3"/><circle cx="638.7" cy="1101.9" r="5.3"/><circle cx="687.2" cy="1102.4" r="5.3"/><circle cx="696.9" cy="1108.6" r="5.3"/><circle cx="716.3" cy="1135.8" r="5.3"/><circle cx="726.0" cy="1117.9" r="5.3"/><circle cx="735.7" cy="1076.4" r="5.3"/><circle cx="745.4" cy="1051.8" r="5.3"/><circle cx="755.1" cy="1060.8" r="5.3"/><circle cx="764.8" cy="1091.9" r="5.3"/><circle cx="774.5" cy="1121.8" r="5.3"/><circle cx="803.6" cy="1136.9" r="5.3"/><circle cx="832.6" cy="1135.0" r="5.3"/><circle cx="842.3" cy="1113.3" r="5.3"/><circle cx="852.0" cy="1118.7" r="5.3"/><circle cx="861.7" cy="1097.7" r="5.3"/><circle cx="871.4" cy="1087.6" r="5.3"/><circle cx="881.1" cy="1124.9" r="5.3"/><circle cx="890.8" cy="1101.6" r="5.3"/><circle cx="900.5" cy="1104.4" r="5.3"/><circle cx="910.2" cy="1110.6" r="5.3"/><circle cx="919.9" cy="1079.5" r="5.3"/><circle cx="929.6" cy="1061.9" r="5.3"/><circle cx="939.3" cy="1073.6" r="5.3"/><circle cx="949.0" cy="1086.8" r="5.3"/><circle cx="958.7" cy="1123.4" r="5.3"/><circle cx="978.1" cy="1116.4" r="5.3"/><circle cx="987.8" cy="1116.4" r="5.3"/></g>
<polyline clip-path="url(#c2)" points="85.9,927.8 95.6,923.4 105.3,917.6 115.0,911.7 124.7,903.7 134.4,895.3 144.1,887.6 153.8,876.6 163.5,875.9 173.2,879.2 182.9,877.8 192.6,886.8 202.3,889.0 212.0,880.2 221.7,860.0 231.4,830.8 241.1,800.5 250.8,781.8 260.5,758.5 270.2,749.1 279.9,742.1 289.6,737.5 299.3,737.5 309.0,743.7 318.7,756.1 328.4,776.4 338.0,805.9 347.7,833.1 357.4,861.0 367.1,892.3 376.8,926.2 386.5,942.9 396.2,983.0 405.9,1002.8 415.6,1040.0 425.3,1065.8 435.0,1065.5 444.7,1071.2 454.4,1063.5 464.1,1054.1 473.8,1056.5 483.5,1046.0 493.2,1055.7 502.9,1077.0 512.6,1106.1 522.3,1089.9 532.0,1069.7 541.7,1073.6 551.4,1050.6 561.1,1060.8 570.8,1079.5 580.5,1079.0 590.2,1083.2 599.9,1126.5 609.6,1101.6 619.3,1124.9 629.0,1115.6 638.7,1128.8 648.4,1123.2 658.1,1136.9 667.8,1109.7 677.5,1093.0 687.2,1092.6 696.9,1096.9 706.6,1098.9 716.3,1136.6 726.0,1160.0 735.7,1160.0 745.4,1160.0 755.1,1154.7 764.8,1116.4 774.5,1099.3 784.2,1095.4 793.9,1102.4 803.6,1093.0 813.2,1135.4 822.9,1160.0 832.6,1160.0 842.3,1160.0 852.0,1143.0 861.7,1095.4 871.4,1091.5 881.1,1114.8 890.8,1110.9 900.5,1088.4 910.2,1075.1 919.9,1061.9 929.6,1093.8 939.3,1175.5 949.0,1180.0 958.7,1180.0 968.4,1180.0 978.1,1180.0 987.8,1180.0 997.5,1180.0 1007.2,1180.0 1016.9,1180.0" fill="none" stroke="#0000ff" stroke-width="4.8" stroke-linejoin="round"/>
<g fill="#0000ff"><circle cx="95.6" cy="923.4" r="5.3"/><circle cx="105.3" cy="917.6" r="5.3"/><circle cx="115.0" cy="911.7" r="5.3"/><circle cx="124.7" cy="903.7" r="5.3"/><circle cx="134.4" cy="895.3" r="5.3"/><circle cx="144.1" cy="887.6" r="5.3"/><circle cx="153.8" cy="876.6" r="5.3"/><circle cx="163.5" cy="875.9" r="5.3"/><circle cx="173.2" cy="879.2" r="5.3"/><circle cx="182.9" cy="877.8" r="5.3"/><circle cx="192.6" cy="886.8" r="5.3"/><circle cx="202.3" cy="889.0" r="5.3"/><circle cx="212.0" cy="880.2" r="5.3"/><circle cx="221.7" cy="860.0" r="5.3"/><circle cx="231.4" cy="830.8" r="5.3"/><circle cx="241.1" cy="800.5" r="5.3"/><circle cx="250.8" cy="781.8" r="5.3"/><circle cx="260.5" cy="758.5" r="5.3"/><circle cx="270.2" cy="749.1" r="5.3"/><circle cx="279.9" cy="742.1" r="5.3"/><circle cx="289.6" cy="737.5" r="5.3"/><circle cx="299.3" cy="737.5" r="5.3"/><circle cx="309.0" cy="743.7" r="5.3"/><circle cx="318.7" cy="756.1" r="5.3"/><circle cx="328.4" cy="776.4" r="5.3"/><circle cx="338.0" cy="805.9" r="5.3"/><circle cx="347.7" cy="833.1" r="5.3"/><circle cx="357.4" cy="861.0" r="5.3"/><circle cx="367.1" cy="892.3" r="5.3"/><circle cx="376.8" cy="926.2" r="5.3"/><circle cx="386.5" cy="942.9" r="5.3"/><circle cx="396.2" cy="983.0" r="5.3"/><circle cx="405.9" cy="1002.8" r="5.3"/><circle cx="415.6" cy="1040.0" r="5.3"/><circle cx="425.3" cy="1065.8" r="5.3"/><circle cx="435.0" cy="1065.5" r="5.3"/><circle cx="444.7" cy="1071.2" r="5.3"/><circle cx="454.4" cy="1063.5" r="5.3"/><circle cx="464.1" cy="1054.1" r="5.3"/><circle cx="473.8" cy="1056.5" r="5.3"/><circle cx="483.5" cy="1046.0" r="5.3"/><circle cx="493.2" cy="1055.7" r="5.3"/><circle cx="502.9" cy="1077.0" r="5.3"/><circle cx="512.6" cy="1106.1" r="5.3"/><circle cx="522.3" cy="1089.9" r="5.3"/><circle cx="532.0" cy="1069.7" r="5.3"/><circle cx="541.7" cy="1073.6" r="5.3"/><circle cx="551.4" cy="1050.6" r="5.3"/><circle cx="561.1" cy="1060.8" r="5.3"/><circle cx="570.8" cy="1079.5" r="5.3"/><circle cx="580.5" cy="1079.0" r="5.3"/><circle cx="590.2" cy="1083.2" r="5.3"/><circle cx="599.9" cy="1126.5" r="5.3"/><circle cx="609.6" cy="1101.6" r="5.3"/><circle cx="619.3" cy="1124.9" r="5.3"/><circle cx="629.0" cy="1115.6" r="5.3"/><circle cx="638.7" cy="1128.8" r="5.3"/><circle cx="648.4" cy="1123.2" r="5.3"/><circle cx="658.1" cy="1136.9" r="5.3"/><circle cx="667.8" cy="1109.7" r="5.3"/><circle cx="677.5" cy="1093.0" r="5.3"/><circle cx="687.2" cy="1092.6" r="5.3"/><circle cx="696.9" cy="1096.9" r="5.3"/><circle cx="706.6" cy="1098.9" r="5.3"/><circle cx="716.3" cy="1136.6" r="5.3"/><circle cx="764.8" cy="1116.4" r="5.3"/><circle cx="774.5" cy="1099.3" r="5.3"/><circle cx="784.2" cy="1095.4" r="5.3"/><circle cx="793.9" cy="1102.4" r="5.3"/><circle cx="803.6" cy="1093.0" r="5.3"/><circle cx="813.2" cy="1135.4" r="5.3"/><circle cx="861.7" cy="1095.4" r="5.3"/><circle cx="871.4" cy="1091.5" r="5.3"/><circle cx="881.1" cy="1114.8" r="5.3"/><circle cx="890.8" cy="1110.9" r="5.3"/><circle cx="900.5" cy="1088.4" r="5.3"/><circle cx="910.2" cy="1075.1" r="5.3"/><circle cx="919.9" cy="1061.9" r="5.3"/><circle cx="929.6" cy="1093.8" r="5.3"/></g>
<text x="87.1" y="1171.8" font-size="25" text-anchor="middle">1</text>
<text x="220.2" y="1171.8" font-size="25" text-anchor="middle">2</text>
<text x="353.4" y="1171.8" font-size="25" text-anchor="middle">3</text>
<text x="486.6" y="1171.8" font-size="25" text-anchor="middle">4</text>
<text x="619.7" y="1171.8" font-size="25" text-anchor="middle">5</text>
<text x="752.9" y="1171.8" font-size="25" text-anchor="middle">6</text>
<text x="886.0" y="1171.8" font-size="25" text-anchor="middle">7</text>
<text x="1019.2" y="1171.8" font-size="25" text-anchor="middle">8</text>
<text x="65.7" y="1007.5" font-size="25" text-anchor="end">10</text>
<text x="65.7" y="995.9" font-size="20" text-anchor="start">1</text>
<text x="65.7" y="803.7" font-size="25" text-anchor="end">10</text>
<text x="65.7" y="792.1" font-size="20" text-anchor="start">2</text>
<text x="268" y="27.8" font-size="36.3" text-anchor="start" textLength="583" lengthAdjust="spacingAndGlyphs" class="k">(a) NBI 1L vs 2L vs 1L+2L (60keV)</text>
<text x="198.6" y="647.5" font-size="36.3" text-anchor="start" textLength="705" lengthAdjust="spacingAndGlyphs" class="k">(b) ICRF 1.0MW, NBI 1R+2L+2R (50keV)</text>
<text x="451.5" y="588.3" font-size="33" text-anchor="start" textLength="201" lengthAdjust="spacingAndGlyphs">Energy [MeV]</text>
<text x="452.5" y="1212.1" font-size="33" text-anchor="start" textLength="201" lengthAdjust="spacingAndGlyphs">Energy [MeV]</text>
<text transform="translate(26.2,333) rotate(-90)" font-size="33" textLength="106" lengthAdjust="spacingAndGlyphs">Counts</text>
<text transform="translate(26.2,955) rotate(-90)" font-size="33" textLength="106" lengthAdjust="spacingAndGlyphs">Counts</text>
<rect x="444.1" y="73.4" width="563.7" height="192.7" fill="#fff" stroke="#464646" stroke-width="1.3"/>
<path d="M458.1 100.9H531.5" stroke="#048204" stroke-width="4.8"/>
<circle cx="494.8" cy="100.9" r="5.3" fill="#048204"/>
<text x="540.0" y="113.2" font-size="33" text-anchor="start" textLength="395" lengthAdjust="spacingAndGlyphs" class="k">102114 IC=1.0MW, NBI 1L</text>
<path d="M458.1 147.1H531.5" stroke="#000000" stroke-width="4.8"/>
<circle cx="494.8" cy="147.1" r="5.3" fill="#000000"/>
<text x="540.0" y="159.4" font-size="33" text-anchor="start" textLength="395" lengthAdjust="spacingAndGlyphs" class="k">102115 IC=1.0MW, NBI 2L</text>
<path d="M458.1 193.0H531.5" stroke="#0000ff" stroke-width="4.8"/>
<circle cx="494.8" cy="193.0" r="5.3" fill="#0000ff"/>
<text x="540.0" y="205.3" font-size="33" text-anchor="start" textLength="451" lengthAdjust="spacingAndGlyphs" class="k">102117 IC=0.8MW, NBI 1L+2L</text>
<path d="M458.1 238.9H531.5" stroke="#ff0000" stroke-width="4.8"/>
<circle cx="494.8" cy="238.9" r="5.3" fill="#ff0000"/>
<text x="540.0" y="251.2" font-size="33" text-anchor="start" textLength="451" lengthAdjust="spacingAndGlyphs" class="k">102112 IC=1.5MW, NBI 1L+2L</text>
<rect x="610.4" y="716.3" width="354.0" height="146.4" fill="#fff" stroke="#464646" stroke-width="1.3"/>
<path d="M626.1 743.9H697.0" stroke="#000000" stroke-width="4.8"/>
<circle cx="661.55" cy="743.9" r="5.3" fill="#000000"/>
<text x="706.0" y="756.2" font-size="33" text-anchor="start" textLength="247" lengthAdjust="spacingAndGlyphs" class="k">113671, Bt=2.4T</text>
<path d="M626.1 790.2H697.0" stroke="#ff0000" stroke-width="4.8"/>
<circle cx="661.55" cy="790.2" r="5.3" fill="#ff0000"/>
<text x="706.0" y="802.5" font-size="33" text-anchor="start" textLength="247" lengthAdjust="spacingAndGlyphs" class="k">113669, Bt=2.5T</text>
<path d="M626.1 836.4H697.0" stroke="#0000ff" stroke-width="4.8"/>
<circle cx="661.55" cy="836.4" r="5.3" fill="#0000ff"/>
<text x="706.0" y="848.7" font-size="33" text-anchor="start" textLength="247" lengthAdjust="spacingAndGlyphs" class="k">113668, Bt=2.6T</text>
</svg></body></html>
